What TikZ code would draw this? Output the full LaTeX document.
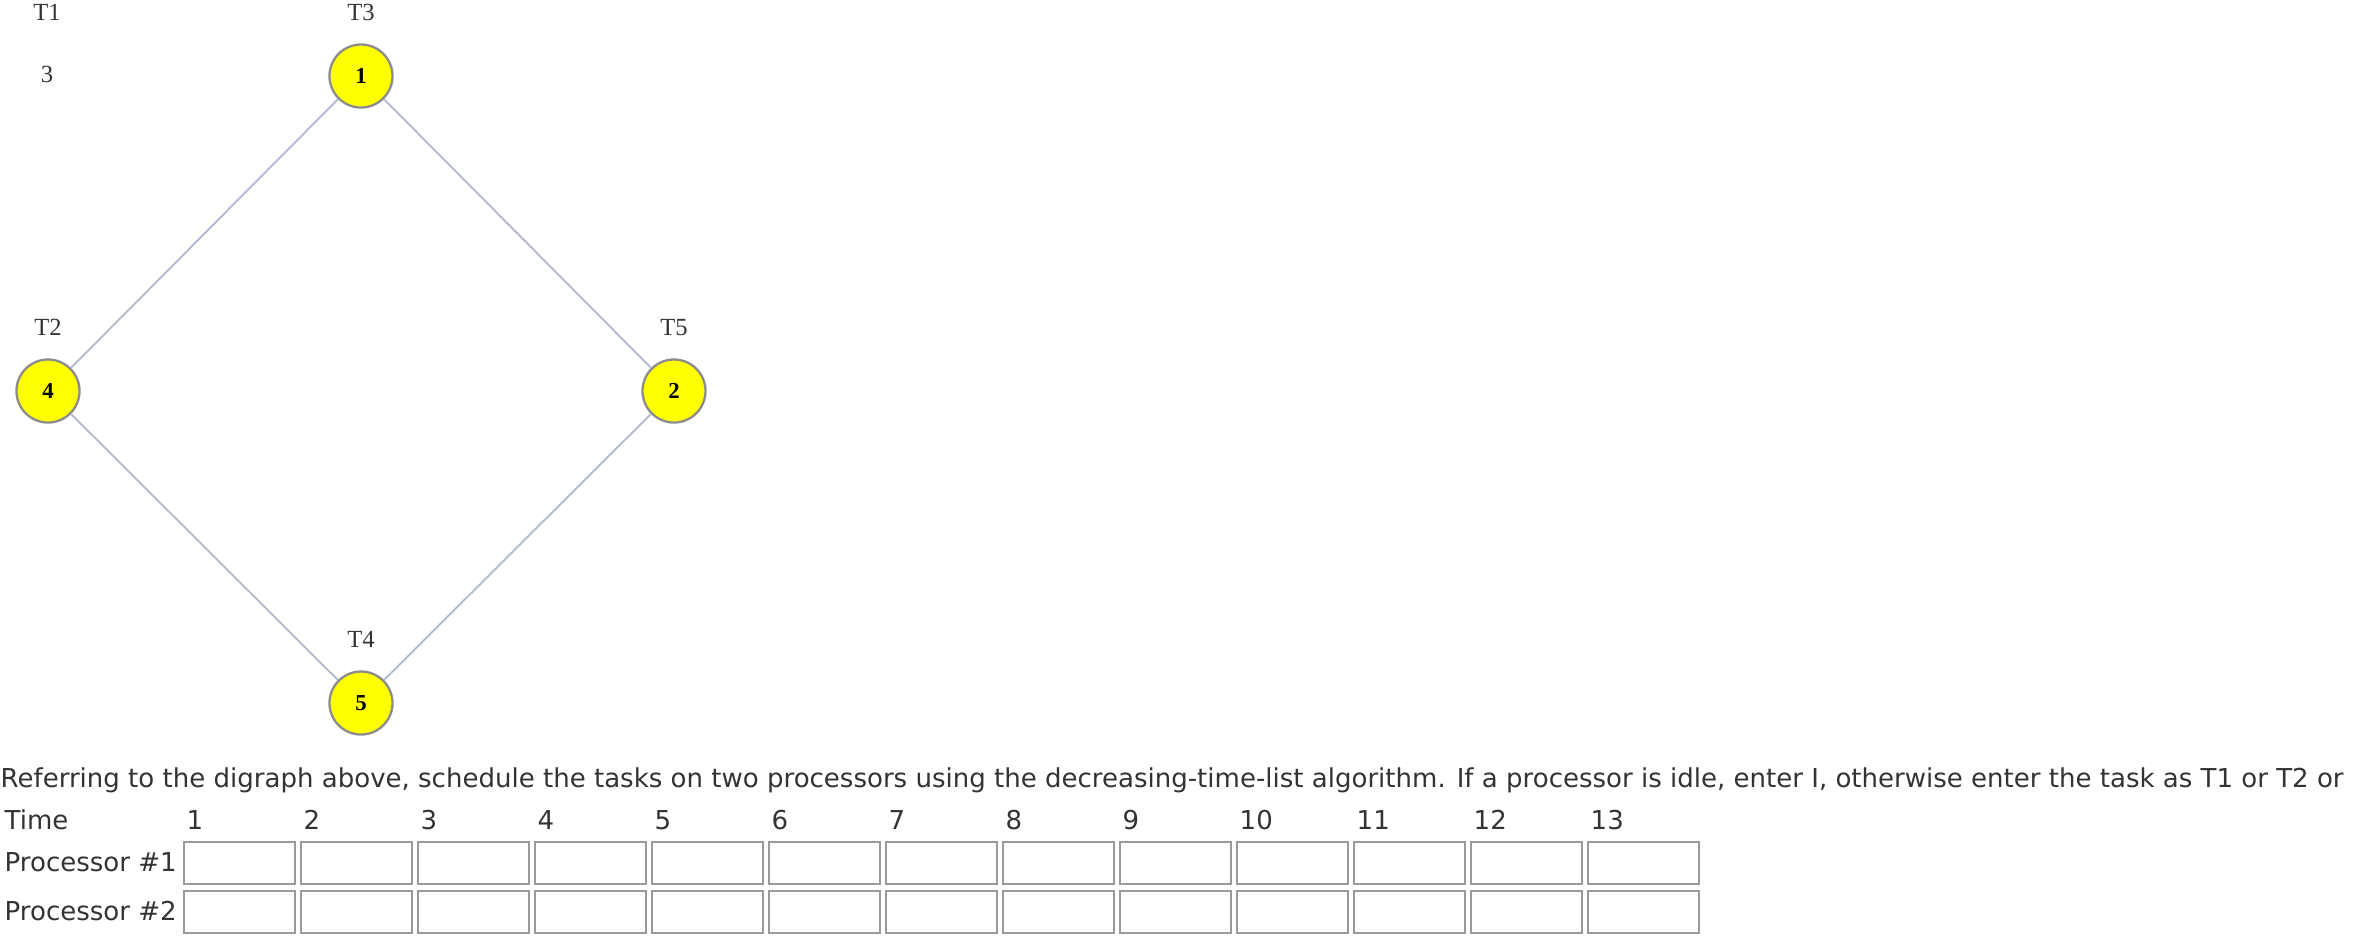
\documentclass[tikz,border=0pt]{standalone}
\usepackage{fontspec}
\setmainfont{Liberation Serif}
\newfontfamily\uifont{DejaVu Sans}
\usetikzlibrary{positioning}

\definecolor{edgecol}{HTML}{B4BCCF}
\definecolor{textgray}{HTML}{333333}
\definecolor{boxgray}{HTML}{9A9A9A}
\definecolor{nodeyellow}{HTML}{FFFF00}

\tikzset{
  task/.style={circle, draw=black!45, fill=nodeyellow, line width=0.65pt,
    minimum size=0.63cm, inner sep=0pt, font=\fontsize{6.5}{7}\selectfont\bfseries},
  tlabel/.style={font=\fontsize{7}{8}\selectfont, text=textgray, inner sep=0pt},
  link/.style={draw=edgecol, line width=0.55pt},
  slot/.style={draw=boxgray, line width=0.5pt, minimum width=1.11cm,
    minimum height=0.42cm, inner sep=0pt, anchor=north west},
  ui/.style={font=\uifont\fontsize{7.4}{9}\selectfont, text=textgray, inner sep=0pt},
}

\begin{document}
\begin{tikzpicture}[x=0.01cm, y=-0.01cm]
  \useasboundingbox (0,0) rectangle (2376,941);

  % task nodes
  \node[task] (n1) at (361,76) {1};
  \node[task] (n4) at (48,391) {4};
  \node[task] (n2) at (674,391) {2};
  \node[task] (n5) at (361,703) {5};
  \node[tlabel] (n3) at (47,74) {3};

  % task names
  \node[tlabel] (t1) at (47,12) {T1};
  \node[tlabel, above=0.22cm of n1] (t3) {T3};
  \node[tlabel, above=0.22cm of n4] (t2) {T2};
  \node[tlabel, above=0.22cm of n2] (t5) {T5};
  \node[tlabel, above=0.22cm of n5] (t4) {T4};

  % precedence
  \draw[link] (n1) -- (n4);
  \draw[link] (n1) -- (n2);
  \draw[link] (n4) -- (n5);
  \draw[link] (n2) -- (n5);

  % question
  \node[ui, anchor=west] (prompt) at (0,780) {Referring to the digraph above, schedule the tasks on two processors using the decreasing-time-list algorithm. If a processor is idle, enter I, otherwise enter the task as T1 or T2 or};

  % schedule table
  \node[ui, anchor=west] (time) at (4,820) {Time};
  \node[ui, anchor=west] (p1) at (4,862) {Processor \#1};
  \node[ui, anchor=west] (p2) at (4,911) {Processor \#2};
  \foreach \i in {1,...,13} {
    \node[ui, anchor=west] (h\i) at ({186+117*(\i-1)},820) {\i};
    \node[slot] (a\i) at ({183+117*(\i-1)},841) {};
    \node[slot] (b\i) at ({183+117*(\i-1)},890) {};
  }
\end{tikzpicture}
\end{document}
